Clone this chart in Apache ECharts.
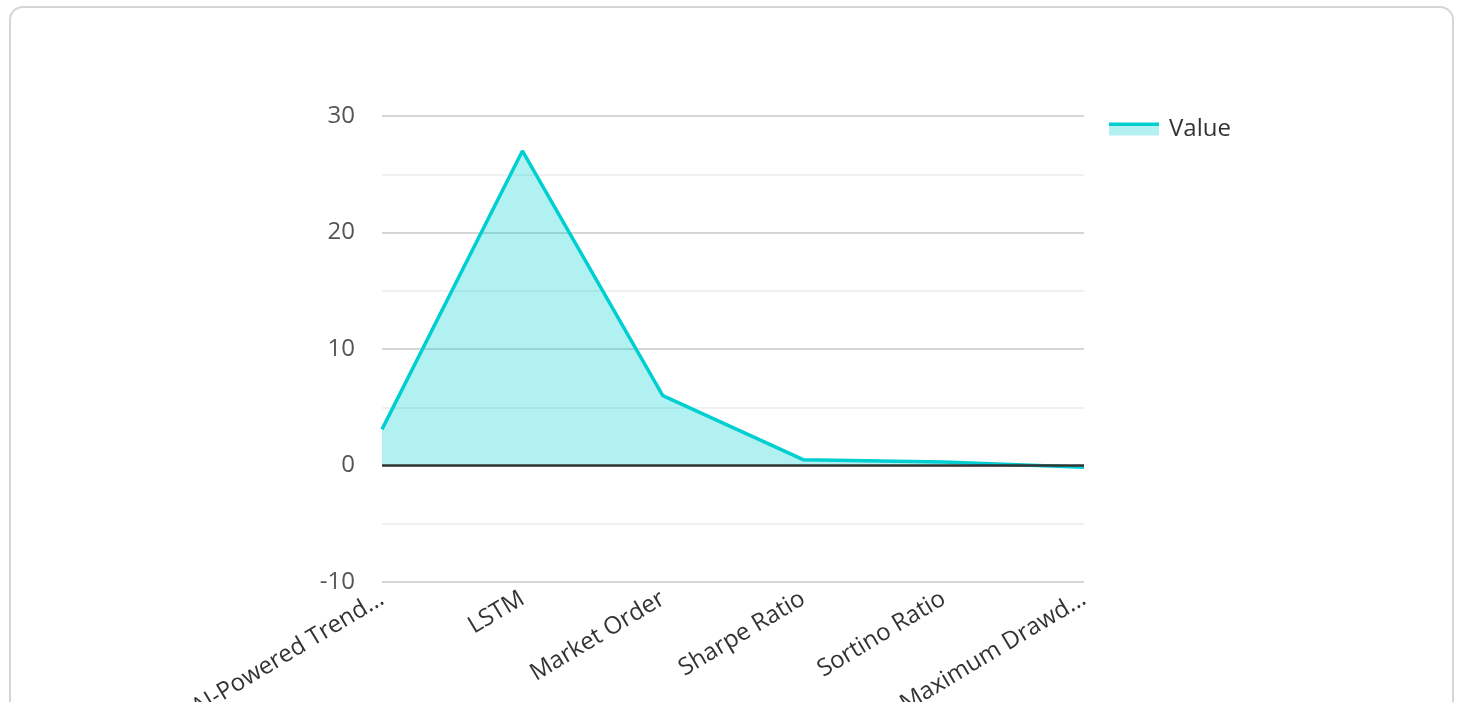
<!DOCTYPE html>
<html lang="en">
<head>
	<meta charset="UTF-8">
	<title>Chart</title>
	<style>
		*{margin: 0; padding: 0; box-sizing: border-box;}
		body{ background: #fff; overflow: hidden; }
		#box{
			position: absolute;
			left: 9px; top: 6px;
			width: 1445px; height: 720px;
			border: 2px solid #d6d6d6;
			border-radius: 14px;
		}
		#view{
			position: absolute;
			left: 0; top: 0;
			width: 1460px; height: 702px;
		}
	</style>
</head>
<body>
	<div id="box"></div>
	<div id="view"></div>
	<script src="https://cdn.jsdelivr.net/npm/echarts@6/dist/echarts.min.js"></script>
	<script>
	// data
	const categories = ['AI-Powered Trend Following', 'LSTM', 'Market Order', 'Sharpe Ratio', 'Sortino Ratio', 'Maximum Drawdown'];
	const values = [3.1, 27, 6, 0.5, 0.3, -0.15];
	const yTicks = [-10, 30, 10];  // min, max, interval

	const font = "'Open Sans', 'Noto Sans', sans-serif";
	const teal = '#00cfd1';
	let option = {
		textStyle: {fontFamily: font},
		grid: {left: 382, right: 376, top: 116, bottom: 120, outerBoundsMode: 'none', containLabel: false},
		legend: {
			left: 1104, top: 112,
			itemWidth: 50, itemHeight: 13, itemGap: 10,
			icon: 'rect',
			itemStyle: {
				color: {
					type: 'linear', x: 0, y: 0, x2: 0, y2: 1,
					colorStops: [
						{offset: 0, color: teal}, {offset: 0.24, color: teal},
						{offset: 0.24, color: '#b3f0f1'}, {offset: 1, color: '#b3f0f1'}
					]
				}
			},
			textStyle: {fontSize: 24, color: '#333', fontFamily: font, padding: [0, 0, 0, 5]},
			data: ['Value']
		},
		xAxis: {
			type: 'category',
			data: categories,
			boundaryGap: false,
			axisLine: {show: false},
			axisTick: {show: false},
			axisLabel: {
				rotate: 31, margin: 15, fontSize: 24, color: '#333',
				width: 222, overflow: 'truncate', interval: 0, fontFamily: font
			}
		},
		yAxis: {
			type: 'value',
			min: yTicks[0], max: yTicks[1], interval: yTicks[2],
			axisLine: {show: false},
			axisTick: {show: false},
			axisLabel: {fontSize: 24, color: '#555', margin: 27, fontFamily: font},
			splitLine: {lineStyle: {color: '#c8c8c8', width: 1.5}},
			minorTick: {show: false, splitNumber: 2},
			minorSplitLine: {show: true, lineStyle: {color: '#ebebeb', width: 1.5}}
		},
		series: [{
			name: 'Value',
			type: 'line',
			data: values,
			symbol: 'none',
			lineStyle: {color: teal, width: 3.5},
			itemStyle: {color: teal},
			areaStyle: {color: teal, opacity: 0.3},
			markLine: {
				silent: true,
				symbol: 'none',
				label: {show: false},
				lineStyle: {color: '#333', type: 'solid', width: 2.5},
				data: [{yAxis: 0}]
			}
		}]
	};
	var myChart = echarts.init(document.getElementById('view'));
	myChart.setOption(option);
	</script>
</body>
</html>
